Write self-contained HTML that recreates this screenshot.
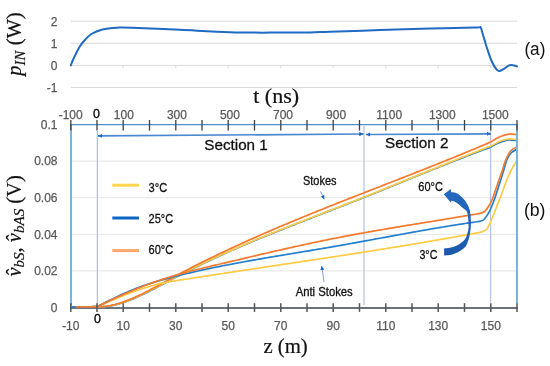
<!DOCTYPE html><html><head><meta charset="utf-8"><title>Figure</title><style>
*{margin:0;padding:0}
html,body{width:550px;height:366px;overflow:hidden;background:#fff}
svg{display:block}
.lb{font-family:"Liberation Sans",sans-serif;font-size:12px;fill:#595959;stroke:#595959;stroke-width:0.25px}
.zb{font-family:"Liberation Sans",sans-serif;font-size:12.5px;fill:#000;stroke:#000;stroke-width:0.3px}
.lg{font-family:"Liberation Sans",sans-serif;font-size:13px;fill:#111;stroke:#111;stroke-width:0.3px}
.an{font-family:"Liberation Sans",sans-serif;font-size:12px;fill:#111;stroke:#111;stroke-width:0.3px}
.sec{font-family:"Liberation Sans",sans-serif;font-size:15.5px;fill:#111;stroke:#111;stroke-width:0.3px}
.ax{font-family:"Liberation Serif",serif;font-size:20.5px;fill:#111;stroke:#111;stroke-width:0.2px}
.pl{font-family:"Liberation Sans",sans-serif;font-size:17.5px;fill:#111}
</style></head><body><svg width="550" height="366" viewBox="0 0 550 366">
<rect width="550" height="366" fill="#fff"/>
<line x1="71" y1="21.2" x2="517" y2="21.2" stroke="#D9D9D9" stroke-width="1"/>
<line x1="71" y1="43.3" x2="517" y2="43.3" stroke="#D9D9D9" stroke-width="1"/>
<line x1="71" y1="65.4" x2="517" y2="65.4" stroke="#D9D9D9" stroke-width="1"/>
<line x1="71" y1="87.5" x2="517" y2="87.5" stroke="#D9D9D9" stroke-width="1"/>
<line x1="123.2" y1="65.4" x2="123.2" y2="68.4" stroke="#D9D9D9" stroke-width="1"/>
<line x1="175.8" y1="65.4" x2="175.8" y2="68.4" stroke="#D9D9D9" stroke-width="1"/>
<line x1="228.2" y1="65.4" x2="228.2" y2="68.4" stroke="#D9D9D9" stroke-width="1"/>
<line x1="280.8" y1="65.4" x2="280.8" y2="68.4" stroke="#D9D9D9" stroke-width="1"/>
<line x1="333.2" y1="65.4" x2="333.2" y2="68.4" stroke="#D9D9D9" stroke-width="1"/>
<line x1="385.8" y1="65.4" x2="385.8" y2="68.4" stroke="#D9D9D9" stroke-width="1"/>
<line x1="438.2" y1="65.4" x2="438.2" y2="68.4" stroke="#D9D9D9" stroke-width="1"/>
<line x1="490.8" y1="65.4" x2="490.8" y2="68.4" stroke="#D9D9D9" stroke-width="1"/>
<path d="M70.8,65.3 C71.2,64.4 72.0,62.1 72.9,60.0 C73.9,57.9 75.3,54.9 76.5,52.5 C77.7,50.1 79.0,47.6 80.3,45.7 C81.5,43.8 82.2,43.0 84.0,41.0 C85.8,39.0 88.3,35.9 91.4,34.0 C94.5,32.1 98.1,30.6 102.4,29.5 C106.7,28.4 112.3,28.0 117.2,27.7 C122.1,27.4 121.5,27.3 132.0,27.7 C142.5,28.1 163.7,29.0 180.0,29.8 C196.3,30.6 213.3,31.8 230.0,32.3 C246.7,32.8 266.7,32.6 280.0,32.6 C293.3,32.6 301.7,32.5 310.0,32.4 C318.3,32.2 318.3,32.1 330.0,31.7 C341.7,31.3 363.3,30.6 380.0,30.1 C396.7,29.6 414.2,29.0 430.0,28.6 C445.8,28.2 466.6,27.8 475.0,27.6 C483.4,27.4 479.2,26.5 480.4,27.3 C481.6,28.1 481.5,30.1 482.2,32.2 C482.9,34.3 483.7,37.4 484.5,39.9 C485.3,42.4 486.0,45.1 486.8,47.5 C487.6,49.9 488.3,52.2 489.1,54.4 C489.9,56.6 490.5,58.5 491.4,60.5 C492.3,62.5 493.5,65.0 494.5,66.6 C495.5,68.2 496.6,69.5 497.5,70.2 C498.4,70.9 498.8,71.1 499.8,70.9 C500.8,70.7 502.2,70.0 503.6,69.2 C505.0,68.4 506.9,66.6 508.2,65.9 C509.5,65.2 510.0,65.1 511.3,65.1 C512.6,65.1 514.9,65.7 515.9,65.9 C516.9,66.1 516.8,66.3 517.0,66.4" fill="none" stroke="#1F6BC4" stroke-width="2.0" stroke-linejoin="round" stroke-linecap="round"/>
<text x="57.5" y="25.5" text-anchor="end" class="lb">2</text>
<text x="57.5" y="47.6" text-anchor="end" class="lb">1</text>
<text x="57.5" y="69.7" text-anchor="end" class="lb">0</text>
<text x="57.5" y="91.8" text-anchor="end" class="lb">-1</text>
<line x1="71" y1="270.9" x2="517" y2="270.9" stroke="#E4E4E4" stroke-width="1"/>
<line x1="71" y1="234.3" x2="517" y2="234.3" stroke="#E4E4E4" stroke-width="1"/>
<line x1="71" y1="197.7" x2="517" y2="197.7" stroke="#E4E4E4" stroke-width="1"/>
<line x1="71" y1="161.1" x2="517" y2="161.1" stroke="#E4E4E4" stroke-width="1"/>
<line x1="97.3" y1="131" x2="97.3" y2="307" stroke="#8FB6DD" stroke-width="1"/>
<line x1="364" y1="126" x2="364" y2="305" stroke="#9DB8E0" stroke-width="1"/>
<line x1="490.6" y1="126" x2="490.6" y2="302.5" stroke="#ADC6E8" stroke-width="1.2"/>
<line x1="70" y1="307.9" x2="518" y2="307.9" stroke="#3C4252" stroke-width="1.5"/>
<path d="M71.0,307.0 L80.0,307.0 L90.0,306.9 L97.00,306.71 L99.00,306.77 L101.00,306.76 L103.00,306.68 L105.00,306.54 L107.00,306.33 L109.00,306.06 L111.00,305.73 L113.00,305.34 L115.00,304.90 L117.00,304.41 L119.00,303.86 L121.00,303.27 L123.00,302.64 L125.00,301.96 L127.00,301.25 L129.00,300.49 L131.00,299.70 L133.00,298.88 L135.00,298.03 L137.00,297.15 L139.00,296.25 L141.00,295.33 L143.00,294.38 L145.00,293.42 L147.00,292.43 L149.00,291.44 L151.00,290.43 L153.00,289.40 L155.00,288.37 L157.00,287.32 L159.00,286.27 L161.00,285.21 L163.00,284.15 L165.00,283.09 L167.00,282.02 L169.00,280.96 L171.00,279.90 L173.00,278.84 L175.00,277.78 L177.00,276.74 L179.00,275.70 L181.00,274.66 L183.00,273.64 L185.00,272.62 L187.00,271.60 L189.00,270.60 L191.00,269.59 L193.00,268.60 L195.00,267.61 L197.00,266.63 L199.00,265.65 L201.00,264.68 L203.00,263.72 L205.00,262.76 L207.00,261.81 L209.00,260.86 L211.00,259.92 L213.00,258.98 L215.00,258.05 L217.00,257.13 L219.00,256.21 L221.00,255.30 L223.00,254.39 L225.00,253.48 L227.00,252.59 L229.00,251.69 L231.00,250.81 L233.00,249.92 L235.00,249.04 L237.00,248.17 L239.00,247.30 L241.00,246.43 L243.00,245.57 L245.00,244.72 L247.00,243.86 L249.00,243.02 L251.00,242.17 L253.00,241.33 L255.00,240.49 L257.00,239.66 L259.00,238.83 L261.00,238.00 L263.00,237.18 L265.00,236.36 L267.00,235.54 L269.00,234.72 L271.00,233.91 L273.00,233.10 L275.00,232.29 L277.00,231.49 L279.00,230.69 L281.00,229.89 L283.00,229.09 L285.00,228.30 L287.00,227.50 L289.00,226.71 L291.00,225.92 L293.00,225.13 L295.00,224.35 L297.00,223.56 L299.00,222.78 L301.00,222.00 L303.00,221.21 L305.00,220.43 L307.00,219.66 L309.00,218.88 L311.00,218.10 L313.00,217.32 L315.00,216.55 L317.00,215.77 L319.00,215.00 L321.00,214.22 L323.00,213.44 L325.00,212.67 L327.00,211.89 L329.00,211.12 L331.00,210.34 L333.00,209.57 L335.00,208.79 L337.00,208.01 L339.00,207.24 L341.00,206.46 L343.00,205.68 L345.00,204.90 L347.00,204.12 L349.00,203.33 L351.00,202.55 L353.00,201.76 L355.00,200.98 L357.00,200.19 L359.00,199.40 L361.00,198.61 L363.00,197.81 L365.00,197.02 L367.00,196.22 L369.00,195.42 L371.00,194.62 L373.00,193.81 L375.00,193.01 L377.00,192.20 L379.00,191.40 L381.00,190.59 L383.00,189.78 L385.00,188.97 L387.00,188.16 L389.00,187.35 L391.00,186.53 L393.00,185.72 L395.00,184.91 L397.00,184.09 L399.00,183.28 L401.00,182.46 L403.00,181.65 L405.00,180.83 L407.00,180.02 L409.00,179.21 L411.00,178.39 L413.00,177.58 L415.00,176.76 L417.00,175.95 L419.00,175.14 L421.00,174.33 L423.00,173.52 L425.00,172.71 L427.00,171.90 L429.00,171.09 L431.00,170.28 L433.00,169.48 L435.00,168.67 L437.00,167.87 L439.00,167.07 L441.00,166.27 L443.00,165.48 L445.00,164.68 L447.00,163.89 L449.00,163.10 L451.00,162.31 L453.00,161.52 L455.00,160.73 L457.00,159.95 L459.00,159.17 L461.00,158.40 L463.00,157.62 L465.00,156.85 L467.00,156.08 L469.00,155.32 L471.00,154.55 L473.00,153.79 L475.00,153.04 L477.00,152.29 L479.00,151.54 L481.00,150.79 L483.00,150.05 L485.00,149.31 L487.00,148.58 L489.00,147.85 L490.50,147.30 C491.6,146.7 495.3,144.6 497.3,143.6 C499.3,142.6 500.8,142.0 502.7,141.4 C504.6,140.8 506.9,140.2 509.0,140.0 C511.1,139.8 514.2,140.4 515.5,140.5 C516.8,140.6 516.8,140.7 517.0,140.7" fill="none" stroke="#2580CC" stroke-width="1.7" stroke-linejoin="round"/>
<path d="M71.0,307.0 L80.0,307.0 L90.0,306.9 L97.00,306.70 L99.00,306.72 L101.00,306.68 L103.00,306.56 L105.00,306.38 L107.00,306.15 L109.00,305.85 L111.00,305.50 L113.00,305.09 L115.00,304.63 L117.00,304.12 L119.00,303.56 L121.00,302.96 L123.00,302.32 L125.00,301.64 L127.00,300.91 L129.00,300.16 L131.00,299.37 L133.00,298.54 L135.00,297.69 L137.00,296.82 L139.00,295.91 L141.00,294.99 L143.00,294.05 L145.00,293.09 L147.00,292.11 L149.00,291.11 L151.00,290.11 L153.00,289.09 L155.00,288.06 L157.00,287.02 L159.00,285.97 L161.00,284.92 L163.00,283.86 L165.00,282.80 L167.00,281.74 L169.00,280.68 L171.00,279.62 L173.00,278.56 L175.00,277.51 L177.00,276.47 L179.00,275.43 L181.00,274.40 L183.00,273.37 L185.00,272.35 L187.00,271.34 L189.00,270.33 L191.00,269.33 L193.00,268.33 L195.00,267.34 L197.00,266.36 L199.00,265.38 L201.00,264.41 L203.00,263.44 L205.00,262.48 L207.00,261.52 L209.00,260.58 L211.00,259.63 L213.00,258.69 L215.00,257.76 L217.00,256.84 L219.00,255.92 L221.00,255.00 L223.00,254.09 L225.00,253.18 L227.00,252.29 L229.00,251.39 L231.00,250.50 L233.00,249.62 L235.00,248.74 L237.00,247.86 L239.00,246.99 L241.00,246.12 L243.00,245.26 L245.00,244.40 L247.00,243.55 L249.00,242.70 L251.00,241.86 L253.00,241.01 L255.00,240.18 L257.00,239.34 L259.00,238.51 L261.00,237.68 L263.00,236.86 L265.00,236.04 L267.00,235.22 L269.00,234.40 L271.00,233.59 L273.00,232.78 L275.00,231.98 L277.00,231.17 L279.00,230.37 L281.00,229.57 L283.00,228.77 L285.00,227.98 L287.00,227.19 L289.00,226.40 L291.00,225.61 L293.00,224.82 L295.00,224.03 L297.00,223.25 L299.00,222.47 L301.00,221.69 L303.00,220.90 L305.00,220.13 L307.00,219.35 L309.00,218.57 L311.00,217.79 L313.00,217.02 L315.00,216.24 L317.00,215.47 L319.00,214.69 L321.00,213.92 L323.00,213.15 L325.00,212.37 L327.00,211.60 L329.00,210.82 L331.00,210.05 L333.00,209.27 L335.00,208.50 L337.00,207.72 L339.00,206.95 L341.00,206.17 L343.00,205.39 L345.00,204.61 L347.00,203.83 L349.00,203.05 L351.00,202.27 L353.00,201.48 L355.00,200.70 L357.00,199.91 L359.00,199.12 L361.00,198.33 L363.00,197.54 L365.00,196.74 L367.00,195.95 L369.00,195.15 L371.00,194.35 L373.00,193.55 L375.00,192.74 L377.00,191.94 L379.00,191.13 L381.00,190.32 L383.00,189.51 L385.00,188.70 L387.00,187.89 L389.00,187.08 L391.00,186.27 L393.00,185.45 L395.00,184.64 L397.00,183.82 L399.00,183.01 L401.00,182.19 L403.00,181.37 L405.00,180.55 L407.00,179.73 L409.00,178.92 L411.00,178.10 L413.00,177.28 L415.00,176.46 L417.00,175.64 L419.00,174.82 L421.00,174.00 L423.00,173.18 L425.00,172.36 L427.00,171.55 L429.00,170.73 L431.00,169.91 L433.00,169.09 L435.00,168.28 L437.00,167.46 L439.00,166.65 L441.00,165.84 L443.00,165.02 L445.00,164.21 L447.00,163.40 L449.00,162.59 L451.00,161.78 L453.00,160.98 L455.00,160.17 L457.00,159.37 L459.00,158.57 L461.00,157.77 L463.00,156.97 L465.00,156.17 L467.00,155.38 L469.00,154.58 L471.00,153.79 L473.00,153.00 L475.00,152.22 L477.00,151.43 L479.00,150.65 L481.00,149.87 L483.00,149.09 L485.00,148.32 L487.00,147.55 L489.00,146.78 L490.50,146.20 C491.6,145.6 495.3,143.5 497.3,142.5 C499.3,141.5 500.8,140.9 502.7,140.3 C504.6,139.7 506.9,139.1 509.0,138.9 C511.1,138.8 514.2,139.3 515.5,139.4 C516.8,139.5 516.8,139.6 517.0,139.6" fill="none" stroke="#FFCB45" stroke-width="1.7" stroke-linejoin="round"/>
<path d="M71.0,307.0 L80.0,307.0 L90.0,306.9 L97.00,306.71 L99.00,306.71 L101.00,306.65 L103.00,306.52 L105.00,306.33 L107.00,306.07 L109.00,305.76 L111.00,305.38 L113.00,304.95 L115.00,304.47 L117.00,303.94 L119.00,303.36 L121.00,302.73 L123.00,302.06 L125.00,301.35 L127.00,300.59 L129.00,299.80 L131.00,298.98 L133.00,298.13 L135.00,297.24 L137.00,296.33 L139.00,295.39 L141.00,294.44 L143.00,293.46 L145.00,292.46 L147.00,291.44 L149.00,290.41 L151.00,289.36 L153.00,288.30 L155.00,287.23 L157.00,286.16 L159.00,285.07 L161.00,283.98 L163.00,282.88 L165.00,281.79 L167.00,280.69 L169.00,279.59 L171.00,278.49 L173.00,277.40 L175.00,276.32 L177.00,275.24 L179.00,274.17 L181.00,273.10 L183.00,272.05 L185.00,271.00 L187.00,269.95 L189.00,268.91 L191.00,267.88 L193.00,266.86 L195.00,265.84 L197.00,264.82 L199.00,263.82 L201.00,262.81 L203.00,261.82 L205.00,260.83 L207.00,259.84 L209.00,258.86 L211.00,257.88 L213.00,256.91 L215.00,255.94 L217.00,254.98 L219.00,254.03 L221.00,253.07 L223.00,252.12 L225.00,251.18 L227.00,250.24 L229.00,249.30 L231.00,248.37 L233.00,247.44 L235.00,246.52 L237.00,245.60 L239.00,244.68 L241.00,243.77 L243.00,242.86 L245.00,241.95 L247.00,241.05 L249.00,240.15 L251.00,239.26 L253.00,238.37 L255.00,237.48 L257.00,236.60 L259.00,235.72 L261.00,234.84 L263.00,233.97 L265.00,233.09 L267.00,232.23 L269.00,231.36 L271.00,230.50 L273.00,229.64 L275.00,228.78 L277.00,227.93 L279.00,227.08 L281.00,226.23 L283.00,225.39 L285.00,224.55 L287.00,223.71 L289.00,222.87 L291.00,222.03 L293.00,221.20 L295.00,220.37 L297.00,219.54 L299.00,218.72 L301.00,217.90 L303.00,217.08 L305.00,216.26 L307.00,215.44 L309.00,214.62 L311.00,213.81 L313.00,213.00 L315.00,212.19 L317.00,211.38 L319.00,210.58 L321.00,209.77 L323.00,208.97 L325.00,208.17 L327.00,207.37 L329.00,206.57 L331.00,205.78 L333.00,204.98 L335.00,204.19 L337.00,203.40 L339.00,202.60 L341.00,201.81 L343.00,201.03 L345.00,200.24 L347.00,199.45 L349.00,198.66 L351.00,197.88 L353.00,197.09 L355.00,196.31 L357.00,195.53 L359.00,194.75 L361.00,193.96 L363.00,193.18 L365.00,192.40 L367.00,191.62 L369.00,190.84 L371.00,190.06 L373.00,189.28 L375.00,188.50 L377.00,187.72 L379.00,186.95 L381.00,186.17 L383.00,185.39 L385.00,184.61 L387.00,183.83 L389.00,183.05 L391.00,182.27 L393.00,181.49 L395.00,180.71 L397.00,179.93 L399.00,179.15 L401.00,178.37 L403.00,177.59 L405.00,176.81 L407.00,176.03 L409.00,175.24 L411.00,174.46 L413.00,173.68 L415.00,172.89 L417.00,172.10 L419.00,171.32 L421.00,170.53 L423.00,169.74 L425.00,168.95 L427.00,168.16 L429.00,167.36 L431.00,166.57 L433.00,165.77 L435.00,164.98 L437.00,164.18 L439.00,163.38 L441.00,162.58 L443.00,161.77 L445.00,160.97 L447.00,160.16 L449.00,159.35 L451.00,158.54 L453.00,157.73 L455.00,156.92 L457.00,156.10 L459.00,155.29 L461.00,154.47 L463.00,153.64 L465.00,152.82 L467.00,151.99 L469.00,151.17 L471.00,150.33 L473.00,149.50 L475.00,148.67 L477.00,147.83 L479.00,146.99 L481.00,146.14 L483.00,145.30 L485.00,144.45 L487.00,143.60 L489.00,142.74 L490.50,142.10 C491.6,141.4 495.3,139.1 497.3,138.0 C499.3,136.9 500.7,136.3 502.7,135.7 C504.7,135.1 507.0,134.4 509.1,134.2 C511.2,134.0 514.2,134.4 515.5,134.5 C516.8,134.6 516.8,134.8 517.0,134.8" fill="none" stroke="#F57A2C" stroke-width="1.7" stroke-linejoin="round"/>
<path d="M71.0,307.0 L80.0,307.0 L90.0,306.9 L97.00,306.70 L99.00,305.89 L101.00,305.07 L103.00,304.23 L105.00,303.39 L107.00,302.53 L109.00,301.67 L111.00,300.81 L113.00,299.95 L115.00,299.10 L117.00,298.24 L119.00,297.40 L121.00,296.56 L123.00,295.73 L125.00,294.92 L127.00,294.13 L129.00,293.36 L131.00,292.60 L133.00,291.87 L135.00,291.17 L137.00,290.48 L139.00,289.80 L141.00,289.15 L143.00,288.50 L145.00,287.88 L147.00,287.26 L149.00,286.65 L151.00,286.05 L153.00,285.46 L155.00,284.89 L157.00,284.35 L159.00,283.84 L161.00,283.36 L163.00,282.93 L165.00,282.53 L167.00,282.15 L169.00,281.80 L171.00,281.47 L173.00,281.15 L175.00,280.84 L177.00,280.53 L179.00,280.21 L181.00,279.90 L183.00,279.59 L185.00,279.28 L187.00,278.97 L189.00,278.66 L191.00,278.35 L193.00,278.04 L195.00,277.74 L197.00,277.43 L199.00,277.12 L201.00,276.82 L203.00,276.51 L205.00,276.20 L207.00,275.90 L209.00,275.59 L211.00,275.29 L213.00,274.99 L215.00,274.68 L217.00,274.38 L219.00,274.07 L221.00,273.77 L223.00,273.47 L225.00,273.17 L227.00,272.86 L229.00,272.56 L231.00,272.26 L233.00,271.96 L235.00,271.66 L237.00,271.36 L239.00,271.06 L241.00,270.76 L243.00,270.45 L245.00,270.15 L247.00,269.85 L249.00,269.55 L251.00,269.25 L253.00,268.95 L255.00,268.65 L257.00,268.35 L259.00,268.06 L261.00,267.76 L263.00,267.46 L265.00,267.16 L267.00,266.86 L269.00,266.56 L271.00,266.26 L273.00,265.96 L275.00,265.66 L277.00,265.36 L279.00,265.06 L281.00,264.76 L283.00,264.46 L285.00,264.16 L287.00,263.86 L289.00,263.56 L291.00,263.26 L293.00,262.96 L295.00,262.66 L297.00,262.36 L299.00,262.05 L301.00,261.75 L303.00,261.45 L305.00,261.15 L307.00,260.85 L309.00,260.55 L311.00,260.24 L313.00,259.94 L315.00,259.64 L317.00,259.33 L319.00,259.03 L321.00,258.73 L323.00,258.42 L325.00,258.12 L327.00,257.81 L329.00,257.51 L331.00,257.20 L333.00,256.89 L335.00,256.59 L337.00,256.28 L339.00,255.97 L341.00,255.66 L343.00,255.35 L345.00,255.05 L347.00,254.74 L349.00,254.43 L351.00,254.12 L353.00,253.80 L355.00,253.49 L357.00,253.18 L359.00,252.87 L361.00,252.55 L363.00,252.24 L365.00,251.92 L367.00,251.61 L369.00,251.29 L371.00,250.98 L373.00,250.66 L375.00,250.34 L377.00,250.02 L379.00,249.70 L381.00,249.38 L383.00,249.06 L385.00,248.74 L387.00,248.42 L389.00,248.10 L391.00,247.77 L393.00,247.45 L395.00,247.12 L397.00,246.80 L399.00,246.47 L401.00,246.14 L403.00,245.81 L405.00,245.48 L407.00,245.15 L409.00,244.82 L411.00,244.49 L413.00,244.15 L415.00,243.82 L417.00,243.48 L419.00,243.15 L421.00,242.81 L423.00,242.47 L425.00,242.13 L427.00,241.79 L429.00,241.45 L431.00,241.11 L433.00,240.77 L435.00,240.42 L437.00,240.08 L439.00,239.73 L441.00,239.38 L443.00,239.04 L445.00,238.69 L447.00,238.33 L449.00,237.98 L451.00,237.63 L453.00,237.28 L455.00,236.92 L457.00,236.56 L459.00,236.20 L461.00,235.85 L463.00,235.49 L465.00,235.12 L467.00,234.76 L469.00,234.40 L471.00,234.03 L473.00,233.66 L475.00,233.30 L477.00,232.93 L479.00,232.56 L481.00,232.18 L482.00,232.00 C482.8,231.4 485.5,230.5 487.0,228.7 C488.5,226.9 489.5,224.2 490.8,221.3 C492.1,218.4 493.4,215.1 495.0,211.0 C496.6,206.9 499.1,200.6 500.6,196.7 C502.1,192.8 502.8,190.8 504.0,187.5 C505.2,184.2 506.7,180.2 508.0,177.0 C509.3,173.8 510.5,171.2 512.0,168.5 C513.5,165.8 516.2,161.8 517.0,160.5" fill="none" stroke="#FFCB45" stroke-width="1.7" stroke-linejoin="round"/>
<path d="M71.0,307.0 L80.0,307.0 L90.0,306.9 L97.00,306.70 L99.00,305.68 L101.00,304.66 L103.00,303.65 L105.00,302.63 L107.00,301.63 L109.00,300.63 L111.00,299.64 L113.00,298.66 L115.00,297.68 L117.00,296.73 L119.00,295.78 L121.00,294.85 L123.00,293.94 L125.00,293.05 L127.00,292.17 L129.00,291.31 L131.00,290.48 L133.00,289.67 L135.00,288.88 L137.00,288.11 L139.00,287.36 L141.00,286.63 L143.00,285.92 L145.00,285.22 L147.00,284.55 L149.00,283.89 L151.00,283.24 L153.00,282.61 L155.00,282.00 L157.00,281.39 L159.00,280.81 L161.00,280.23 L163.00,279.66 L165.00,279.11 L167.00,278.57 L169.00,278.03 L171.00,277.50 L173.00,276.99 L175.00,276.47 L177.00,275.97 L179.00,275.47 L181.00,274.98 L183.00,274.49 L185.00,274.01 L187.00,273.53 L189.00,273.06 L191.00,272.60 L193.00,272.13 L195.00,271.68 L197.00,271.23 L199.00,270.78 L201.00,270.34 L203.00,269.90 L205.00,269.47 L207.00,269.04 L209.00,268.62 L211.00,268.20 L213.00,267.79 L215.00,267.38 L217.00,266.97 L219.00,266.57 L221.00,266.17 L223.00,265.77 L225.00,265.38 L227.00,264.99 L229.00,264.60 L231.00,264.22 L233.00,263.84 L235.00,263.47 L237.00,263.09 L239.00,262.72 L241.00,262.35 L243.00,261.99 L245.00,261.63 L247.00,261.27 L249.00,260.91 L251.00,260.55 L253.00,260.20 L255.00,259.85 L257.00,259.50 L259.00,259.15 L261.00,258.81 L263.00,258.46 L265.00,258.12 L267.00,257.78 L269.00,257.44 L271.00,257.10 L273.00,256.77 L275.00,256.43 L277.00,256.09 L279.00,255.76 L281.00,255.43 L283.00,255.09 L285.00,254.76 L287.00,254.43 L289.00,254.10 L291.00,253.77 L293.00,253.44 L295.00,253.11 L297.00,252.78 L299.00,252.45 L301.00,252.11 L303.00,251.78 L305.00,251.45 L307.00,251.12 L309.00,250.79 L311.00,250.45 L313.00,250.12 L315.00,249.78 L317.00,249.45 L319.00,249.11 L321.00,248.77 L323.00,248.43 L325.00,248.09 L327.00,247.75 L329.00,247.40 L331.00,247.05 L333.00,246.71 L335.00,246.36 L337.00,246.01 L339.00,245.65 L341.00,245.30 L343.00,244.94 L345.00,244.59 L347.00,244.23 L349.00,243.87 L351.00,243.51 L353.00,243.15 L355.00,242.79 L357.00,242.42 L359.00,242.06 L361.00,241.70 L363.00,241.33 L365.00,240.96 L367.00,240.60 L369.00,240.23 L371.00,239.86 L373.00,239.50 L375.00,239.13 L377.00,238.76 L379.00,238.39 L381.00,238.03 L383.00,237.66 L385.00,237.29 L387.00,236.92 L389.00,236.56 L391.00,236.19 L393.00,235.82 L395.00,235.46 L397.00,235.09 L399.00,234.73 L401.00,234.36 L403.00,234.00 L405.00,233.63 L407.00,233.27 L409.00,232.91 L411.00,232.55 L413.00,232.19 L415.00,231.84 L417.00,231.48 L419.00,231.13 L421.00,230.77 L423.00,230.42 L425.00,230.07 L427.00,229.72 L429.00,229.37 L431.00,229.03 L433.00,228.68 L435.00,228.34 L437.00,228.00 L439.00,227.66 L441.00,227.33 L443.00,226.99 L445.00,226.66 L447.00,226.33 L449.00,226.01 L451.00,225.68 L453.00,225.36 L455.00,225.04 L457.00,224.73 L459.00,224.41 L461.00,224.10 L463.00,223.79 L465.00,223.49 L467.00,223.19 L469.00,222.89 L471.00,222.59 L473.00,222.30 L475.00,222.01 L477.00,221.72 L479.00,221.44 L480.00,221.30 C480.7,221.0 482.7,220.7 484.0,219.5 C485.3,218.3 486.8,215.9 488.0,214.0 C489.2,212.1 490.0,210.3 491.0,208.0 C492.0,205.7 493.1,203.0 494.2,200.0 C495.3,197.0 496.4,193.3 497.5,190.0 C498.6,186.7 499.6,183.3 500.7,180.0 C501.8,176.7 502.8,173.3 503.8,170.0 C504.8,166.7 505.6,162.8 506.8,160.0 C508.0,157.2 509.3,154.8 511.0,153.0 C512.7,151.2 516.0,149.9 517.0,149.3" fill="none" stroke="#2580CC" stroke-width="1.7" stroke-linejoin="round"/>
<path d="M71.0,307.0 L80.0,307.0 L90.0,306.9 L97.00,306.70 L99.00,305.74 L101.00,304.78 L103.00,303.83 L105.00,302.88 L107.00,301.94 L109.00,301.00 L111.00,300.07 L113.00,299.14 L115.00,298.23 L117.00,297.32 L119.00,296.41 L121.00,295.52 L123.00,294.63 L125.00,293.76 L127.00,292.89 L129.00,292.03 L131.00,291.18 L133.00,290.35 L135.00,289.52 L137.00,288.70 L139.00,287.90 L141.00,287.10 L143.00,286.32 L145.00,285.55 L147.00,284.79 L149.00,284.05 L151.00,283.32 L153.00,282.59 L155.00,281.88 L157.00,281.19 L159.00,280.50 L161.00,279.83 L163.00,279.17 L165.00,278.52 L167.00,277.88 L169.00,277.25 L171.00,276.64 L173.00,276.03 L175.00,275.44 L177.00,274.85 L179.00,274.28 L181.00,273.71 L183.00,273.16 L185.00,272.62 L187.00,272.08 L189.00,271.55 L191.00,271.03 L193.00,270.51 L195.00,270.01 L197.00,269.51 L199.00,269.01 L201.00,268.52 L203.00,268.03 L205.00,267.55 L207.00,267.07 L209.00,266.60 L211.00,266.12 L213.00,265.65 L215.00,265.18 L217.00,264.72 L219.00,264.25 L221.00,263.78 L223.00,263.31 L225.00,262.85 L227.00,262.38 L229.00,261.91 L231.00,261.44 L233.00,260.97 L235.00,260.50 L237.00,260.03 L239.00,259.56 L241.00,259.09 L243.00,258.62 L245.00,258.15 L247.00,257.68 L249.00,257.22 L251.00,256.75 L253.00,256.28 L255.00,255.81 L257.00,255.34 L259.00,254.88 L261.00,254.41 L263.00,253.95 L265.00,253.48 L267.00,253.02 L269.00,252.55 L271.00,252.09 L273.00,251.63 L275.00,251.17 L277.00,250.71 L279.00,250.26 L281.00,249.80 L283.00,249.35 L285.00,248.89 L287.00,248.44 L289.00,247.99 L291.00,247.55 L293.00,247.10 L295.00,246.65 L297.00,246.21 L299.00,245.77 L301.00,245.33 L303.00,244.90 L305.00,244.46 L307.00,244.03 L309.00,243.60 L311.00,243.17 L313.00,242.75 L315.00,242.32 L317.00,241.90 L319.00,241.48 L321.00,241.07 L323.00,240.66 L325.00,240.25 L327.00,239.84 L329.00,239.44 L331.00,239.04 L333.00,238.64 L335.00,238.24 L337.00,237.85 L339.00,237.46 L341.00,237.07 L343.00,236.69 L345.00,236.31 L347.00,235.93 L349.00,235.55 L351.00,235.18 L353.00,234.81 L355.00,234.44 L357.00,234.07 L359.00,233.71 L361.00,233.35 L363.00,232.99 L365.00,232.63 L367.00,232.27 L369.00,231.92 L371.00,231.56 L373.00,231.21 L375.00,230.86 L377.00,230.52 L379.00,230.17 L381.00,229.83 L383.00,229.48 L385.00,229.14 L387.00,228.80 L389.00,228.46 L391.00,228.13 L393.00,227.79 L395.00,227.46 L397.00,227.12 L399.00,226.79 L401.00,226.46 L403.00,226.12 L405.00,225.79 L407.00,225.46 L409.00,225.13 L411.00,224.81 L413.00,224.48 L415.00,224.15 L417.00,223.82 L419.00,223.50 L421.00,223.17 L423.00,222.84 L425.00,222.52 L427.00,222.19 L429.00,221.87 L431.00,221.54 L433.00,221.22 L435.00,220.89 L437.00,220.56 L439.00,220.24 L441.00,219.91 L443.00,219.58 L445.00,219.26 L447.00,218.93 L449.00,218.60 L451.00,218.27 L453.00,217.94 L455.00,217.61 L457.00,217.28 L459.00,216.95 L461.00,216.62 L463.00,216.28 L465.00,215.95 L467.00,215.61 L469.00,215.28 L471.00,214.94 L473.00,214.60 L475.00,214.26 L477.00,213.92 L479.00,213.57 L480.00,213.40 C480.8,213.1 483.2,212.7 484.6,211.5 C486.0,210.3 487.3,208.4 488.5,206.5 C489.7,204.6 490.8,202.8 492.0,200.0 C493.2,197.2 494.3,193.3 495.5,190.0 C496.7,186.7 497.8,183.3 499.0,180.0 C500.2,176.7 501.4,173.3 502.5,170.0 C503.6,166.7 504.3,163.2 505.7,160.0 C507.1,156.8 508.9,153.0 510.8,150.8 C512.7,148.6 516.0,147.6 517.0,147.0" fill="none" stroke="#F57A2C" stroke-width="1.7" stroke-linejoin="round"/>
<line x1="71" y1="307" x2="75.5" y2="307" stroke="#2580CC" stroke-width="1.8"/>
<line x1="71" y1="124.5" x2="71" y2="307.5" stroke="#76B4DE" stroke-width="2"/>
<line x1="517" y1="124.5" x2="517" y2="303.5" stroke="#76B4DE" stroke-width="2"/>
<line x1="70" y1="124.6" x2="518" y2="124.6" stroke="#4C92D3" stroke-width="1.3"/>
<line x1="70.8" y1="303.2" x2="70.8" y2="311.9" stroke="#555" stroke-width="1.5"/>
<line x1="97.0" y1="303.2" x2="97.0" y2="311.9" stroke="#555" stroke-width="1.5"/>
<line x1="123.2" y1="303.2" x2="123.2" y2="311.9" stroke="#555" stroke-width="1.5"/>
<line x1="149.5" y1="303.2" x2="149.5" y2="311.9" stroke="#555" stroke-width="1.5"/>
<line x1="175.8" y1="303.2" x2="175.8" y2="311.9" stroke="#555" stroke-width="1.5"/>
<line x1="202.0" y1="303.2" x2="202.0" y2="311.9" stroke="#555" stroke-width="1.5"/>
<line x1="228.2" y1="303.2" x2="228.2" y2="311.9" stroke="#555" stroke-width="1.5"/>
<line x1="254.5" y1="303.2" x2="254.5" y2="311.9" stroke="#555" stroke-width="1.5"/>
<line x1="280.8" y1="303.2" x2="280.8" y2="311.9" stroke="#555" stroke-width="1.5"/>
<line x1="307.0" y1="303.2" x2="307.0" y2="311.9" stroke="#555" stroke-width="1.5"/>
<line x1="333.2" y1="303.2" x2="333.2" y2="311.9" stroke="#555" stroke-width="1.5"/>
<line x1="359.5" y1="303.2" x2="359.5" y2="311.9" stroke="#555" stroke-width="1.5"/>
<line x1="385.8" y1="303.2" x2="385.8" y2="311.9" stroke="#555" stroke-width="1.5"/>
<line x1="412.0" y1="303.2" x2="412.0" y2="311.9" stroke="#555" stroke-width="1.5"/>
<line x1="438.2" y1="303.2" x2="438.2" y2="311.9" stroke="#555" stroke-width="1.5"/>
<line x1="464.5" y1="303.2" x2="464.5" y2="311.9" stroke="#555" stroke-width="1.5"/>
<line x1="490.8" y1="303.2" x2="490.8" y2="311.9" stroke="#555" stroke-width="1.5"/>
<line x1="517.0" y1="303.2" x2="517.0" y2="311.9" stroke="#555" stroke-width="1.5"/>
<line x1="70.8" y1="120" x2="70.8" y2="130.6" stroke="#404040" stroke-width="1.3"/>
<line x1="97.0" y1="120" x2="97.0" y2="130.6" stroke="#404040" stroke-width="1.3"/>
<line x1="123.2" y1="120" x2="123.2" y2="130.6" stroke="#404040" stroke-width="1.3"/>
<line x1="149.5" y1="120" x2="149.5" y2="130.6" stroke="#404040" stroke-width="1.3"/>
<line x1="175.8" y1="120" x2="175.8" y2="130.6" stroke="#404040" stroke-width="1.3"/>
<line x1="202.0" y1="120" x2="202.0" y2="130.6" stroke="#404040" stroke-width="1.3"/>
<line x1="228.2" y1="120" x2="228.2" y2="130.6" stroke="#404040" stroke-width="1.3"/>
<line x1="254.5" y1="120" x2="254.5" y2="130.6" stroke="#404040" stroke-width="1.3"/>
<line x1="280.8" y1="120" x2="280.8" y2="130.6" stroke="#404040" stroke-width="1.3"/>
<line x1="307.0" y1="120" x2="307.0" y2="130.6" stroke="#404040" stroke-width="1.3"/>
<line x1="333.2" y1="120" x2="333.2" y2="130.6" stroke="#404040" stroke-width="1.3"/>
<line x1="359.5" y1="120" x2="359.5" y2="130.6" stroke="#404040" stroke-width="1.3"/>
<line x1="385.8" y1="120" x2="385.8" y2="130.6" stroke="#404040" stroke-width="1.3"/>
<line x1="412.0" y1="120" x2="412.0" y2="130.6" stroke="#404040" stroke-width="1.3"/>
<line x1="438.2" y1="120" x2="438.2" y2="130.6" stroke="#404040" stroke-width="1.3"/>
<line x1="464.5" y1="120" x2="464.5" y2="130.6" stroke="#404040" stroke-width="1.3"/>
<line x1="490.8" y1="120" x2="490.8" y2="130.6" stroke="#404040" stroke-width="1.3"/>
<line x1="517.0" y1="120" x2="517.0" y2="130.6" stroke="#404040" stroke-width="1.3"/>
<text x="70.7" y="118.8" text-anchor="middle" class="lb">-100</text>
<text x="123.8" y="118.8" text-anchor="middle" class="lb">100</text>
<text x="176.9" y="118.8" text-anchor="middle" class="lb">300</text>
<text x="229.9" y="118.8" text-anchor="middle" class="lb">500</text>
<text x="283.0" y="118.8" text-anchor="middle" class="lb">700</text>
<text x="336.1" y="118.8" text-anchor="middle" class="lb">900</text>
<text x="389.2" y="118.8" text-anchor="middle" class="lb">1100</text>
<text x="442.3" y="118.8" text-anchor="middle" class="lb">1300</text>
<text x="495.3" y="118.8" text-anchor="middle" class="lb">1500</text>
<text x="96.4" y="117.7" text-anchor="middle" class="zb">0</text>
<text x="70.8" y="330.4" text-anchor="middle" class="lb">-10</text>
<text x="123.2" y="330.4" text-anchor="middle" class="lb">10</text>
<text x="175.8" y="330.4" text-anchor="middle" class="lb">30</text>
<text x="228.2" y="330.4" text-anchor="middle" class="lb">50</text>
<text x="280.8" y="330.4" text-anchor="middle" class="lb">70</text>
<text x="333.2" y="330.4" text-anchor="middle" class="lb">90</text>
<text x="385.8" y="330.4" text-anchor="middle" class="lb">110</text>
<text x="438.2" y="330.4" text-anchor="middle" class="lb">130</text>
<text x="490.8" y="330.4" text-anchor="middle" class="lb">150</text>
<text x="97.4" y="323" text-anchor="middle" class="zb">0</text>
<text x="57.5" y="128.8" text-anchor="end" class="lb">0.1</text>
<text x="57.5" y="165.4" text-anchor="end" class="lb">0.08</text>
<text x="57.5" y="202.0" text-anchor="end" class="lb">0.06</text>
<text x="57.5" y="238.6" text-anchor="end" class="lb">0.04</text>
<text x="57.5" y="275.2" text-anchor="end" class="lb">0.02</text>
<text x="57.5" y="311.8" text-anchor="end" class="lb">0</text>
<line x1="112.3" y1="185.2" x2="139" y2="185.2" stroke="#FFD44F" stroke-width="3"/>
<text x="148.6" y="192.4" class="lg" textLength="18.6" lengthAdjust="spacingAndGlyphs">3°C</text>
<line x1="112.3" y1="218" x2="139" y2="218" stroke="#0D67C3" stroke-width="3"/>
<text x="148.6" y="222.7" class="lg" textLength="24.6" lengthAdjust="spacingAndGlyphs">25°C</text>
<line x1="112.3" y1="250.6" x2="139" y2="250.6" stroke="#FFA56E" stroke-width="3"/>
<text x="148.6" y="253.6" class="lg" textLength="24.6" lengthAdjust="spacingAndGlyphs">60°C</text>
<defs><marker id="ah" viewBox="0 0 10 10" refX="10" refY="5" markerWidth="2.6" markerHeight="2.6" orient="auto-start-reverse"><path d="M0,0 L10,5 L0,10 z" fill="#1F64C4"/></marker><marker id="ah2" viewBox="0 0 10 10" refX="10" refY="5" markerWidth="4" markerHeight="4" orient="auto-start-reverse"><path d="M0,0 L10,5 L0,10 z" fill="#1F64C4"/></marker></defs>
<line x1="98" y1="135.9" x2="363.6" y2="134" stroke="#4A88D0" stroke-width="1.7" marker-start="url(#ah)" marker-end="url(#ah)"/>
<line x1="366" y1="134.5" x2="491" y2="133.8" stroke="#4A88D0" stroke-width="1.7" marker-start="url(#ah)" marker-end="url(#ah)"/>
<text x="204.3" y="149.7" class="sec" textLength="63.5" lengthAdjust="spacingAndGlyphs">Section 1</text>
<text x="385" y="147.9" class="sec" textLength="63.5" lengthAdjust="spacingAndGlyphs">Section 2</text>
<text x="303" y="185" class="an" textLength="33.5" lengthAdjust="spacingAndGlyphs">Stokes</text>
<line x1="320.5" y1="191.4" x2="324.2" y2="199.3" stroke="#7FA3D6" stroke-width="1" marker-end="url(#ah2)"/>
<text x="295.7" y="296.2" class="an" textLength="57" lengthAdjust="spacingAndGlyphs">Anti Stokes</text>
<line x1="324.1" y1="282.2" x2="321.7" y2="266" stroke="#7FA3D6" stroke-width="1" marker-end="url(#ah2)"/>
<text x="418.3" y="190.6" class="lg" textLength="24.6" lengthAdjust="spacingAndGlyphs">60°C</text>
<text x="419.4" y="258.9" class="lg" textLength="18" lengthAdjust="spacingAndGlyphs">3°C</text>
<defs><linearGradient id="ag" x1="0" y1="0" x2="0" y2="1"><stop offset="0" stop-color="#2569BF"/><stop offset="1" stop-color="#1A5AAB"/></linearGradient></defs>
<path d="M451.2,192.2 C451.8,192.3 453.5,192.1 454.9,192.6 C456.3,193.1 458.2,194.0 459.8,195.3 C461.4,196.6 463.2,198.3 464.7,200.2 C466.2,202.1 467.7,204.5 468.6,206.8 C469.6,209.1 470.0,211.0 470.4,214.0 C470.8,217.0 471.0,221.3 470.9,225.0 C470.8,228.7 470.1,233.1 469.5,236.0 C468.9,238.9 468.1,240.8 467.5,242.6 C466.9,244.3 466.6,245.2 465.6,246.5 C464.6,247.8 463.1,249.0 461.6,250.1 C460.1,251.2 458.4,252.2 456.4,253.0 C454.4,253.8 451.9,254.6 449.8,255.0 C447.8,255.4 445.1,255.4 444.1,255.5 L444.1,248.5 C445.1,248.4 447.8,248.2 449.8,247.8 C451.9,247.4 454.4,246.7 456.4,245.8 C458.4,244.9 460.0,243.9 461.6,242.6 C463.2,241.3 464.8,239.8 465.8,238.0 C466.8,236.2 467.3,234.1 467.8,232.0 C468.3,229.9 468.7,228.9 468.6,225.7 C468.5,222.4 468.3,215.5 467.2,212.5 C466.1,209.5 463.8,209.1 462.2,207.6 C460.6,206.1 459.1,204.5 457.3,203.3 C455.5,202.1 452.6,201.1 451.6,200.6 L450.8,202.4 L443.8,194.2 L450.8,189.1 Z" fill="url(#ag)"/>
<text x="253.2" y="102.5" class="ax" textLength="46" lengthAdjust="spacingAndGlyphs">t (ns)</text>
<text x="263.4" y="352.7" class="ax" textLength="44.4" lengthAdjust="spacingAndGlyphs">z (m)</text>
<text x="524.4" y="55.4" class="pl" textLength="21" lengthAdjust="spacingAndGlyphs">(a)</text>
<text x="523.9" y="215.6" class="pl" textLength="21.6" lengthAdjust="spacingAndGlyphs">(b)</text>
<g transform="translate(21,75.8) rotate(-90)"><text x="0" y="0" class="ax" font-size="20"><tspan font-style="italic">p</tspan><tspan font-style="italic" font-size="14.5" dy="4" letter-spacing="0.3">IN</tspan><tspan dy="-4"> (W)</tspan></text></g>
<g transform="translate(20.5,276.5) rotate(-90)"><text x="0" y="0" class="ax" font-size="20"><tspan font-style="italic">v̂</tspan><tspan font-style="italic" font-size="15" dy="3.5">bS</tspan><tspan dy="-3.5">, </tspan><tspan font-style="italic">v̂</tspan><tspan font-style="italic" font-size="15" dy="3.5">bAS</tspan><tspan dy="-3.5"> (V)</tspan></text></g>
</svg></body></html>
